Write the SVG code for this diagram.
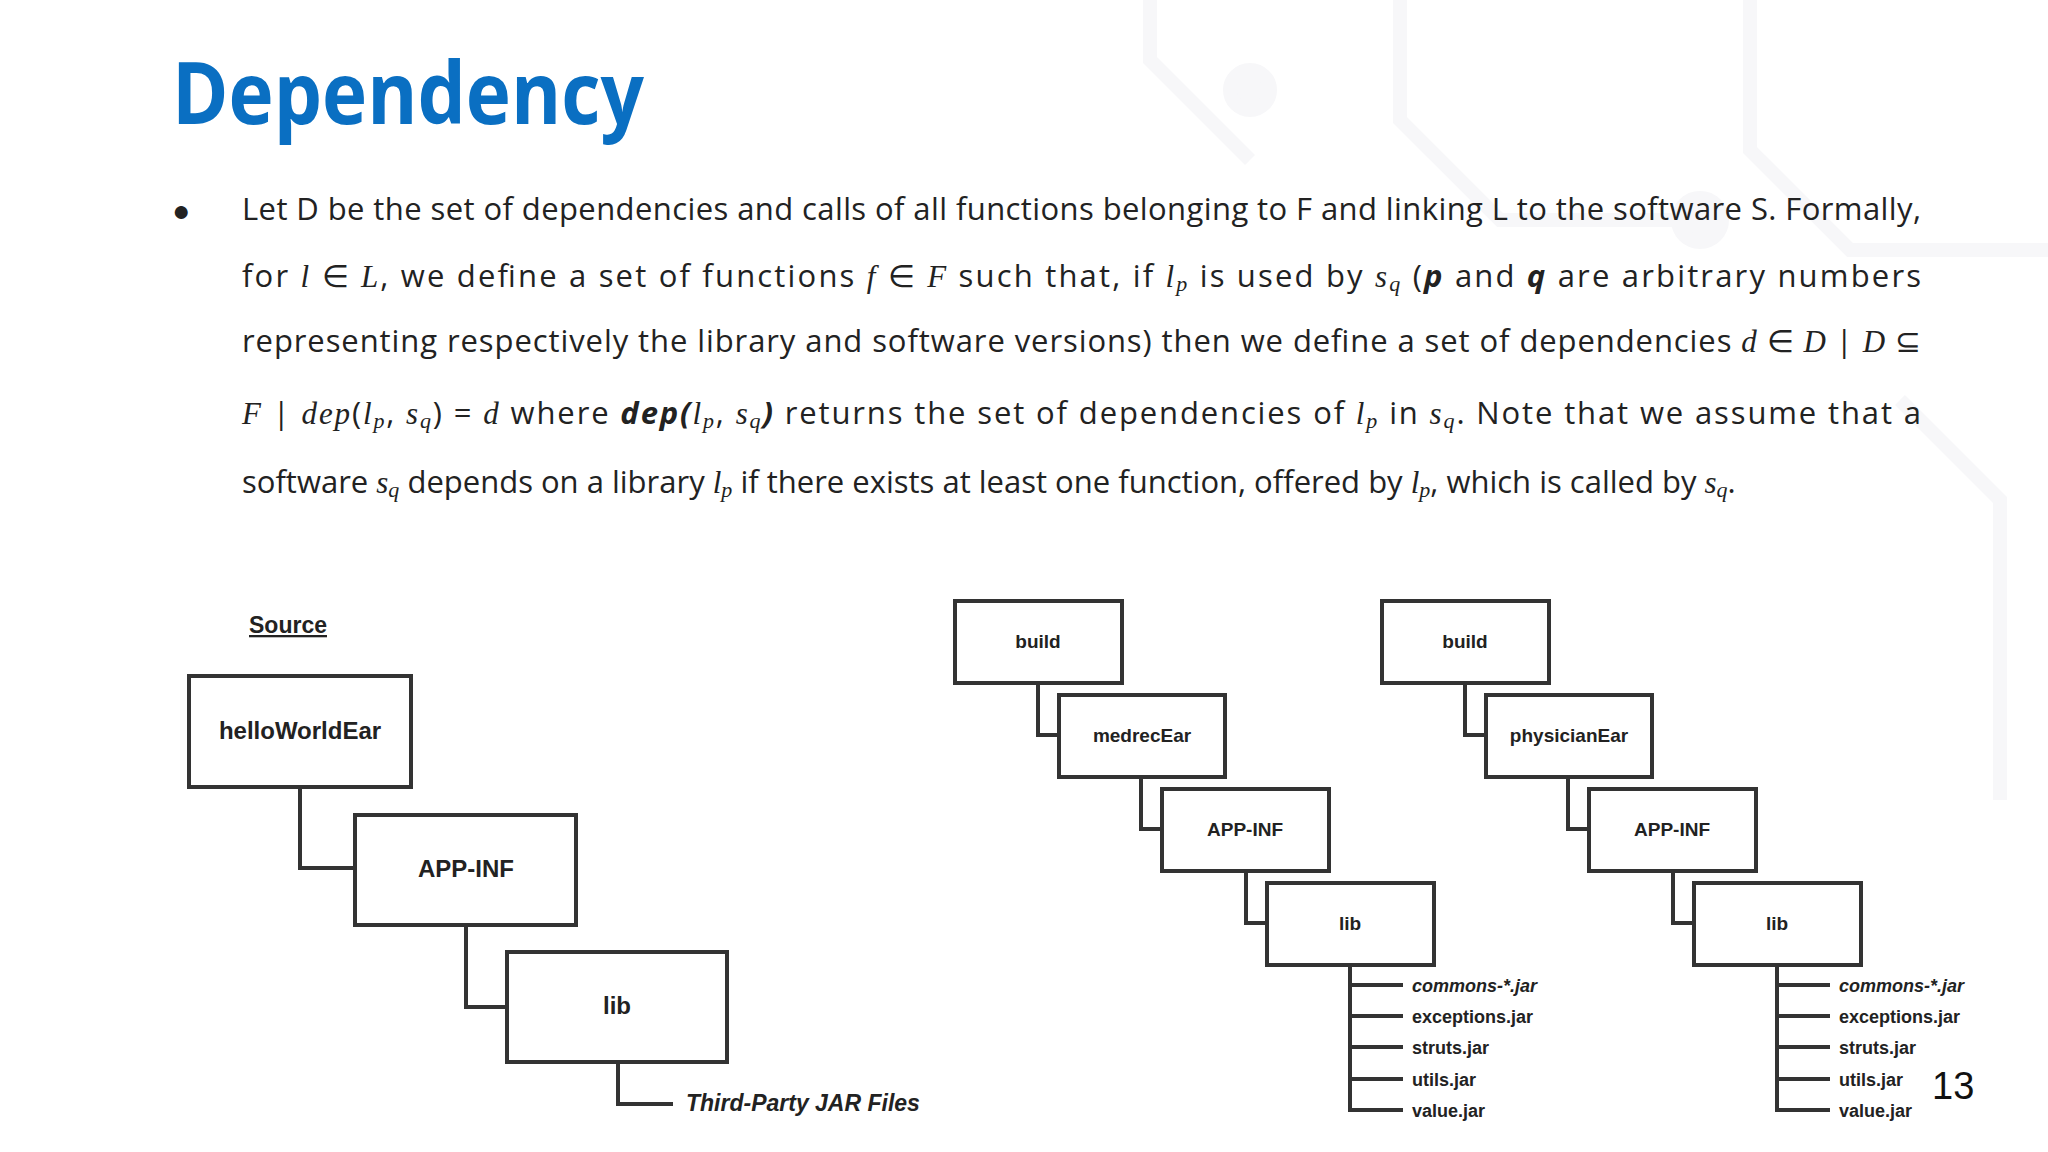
<svg xmlns="http://www.w3.org/2000/svg" width="2048" height="1152" viewBox="0 0 2048 1152">
<style>
.box{fill:#fff;stroke:#333;stroke-width:4}
.con{fill:none;stroke:#333;stroke-width:4}
.bl{font-family:"Liberation Sans",Arial,sans-serif;font-weight:bold;font-size:19px;fill:#222;text-anchor:middle}
.bb{font-size:24px}
.jar{font-family:"Liberation Sans",Arial,sans-serif;font-weight:bold;font-size:18px;fill:#222}
.big{font-size:23px}
.body{font-family:"Open Sans","Noto Sans",sans-serif;font-size:31px;fill:#222}
.m{font-family:"Liberation Serif",serif;font-style:italic}
.s{font-size:22px;baseline-shift:-20%}
</style>
<rect width="2048" height="1152" fill="#fff"/>
<g fill="none" stroke="#f7f7f9" stroke-width="14">
<path d="M1150 0 L1150 60 L1250 160"/><path d="M1400 0 L1400 120 L1500 220 L1700 220"/><path d="M1750 0 L1750 150 L1850 250 L2048 250"/><path d="M1900 400 L2000 500 L2000 800"/>
<circle cx="1250" cy="90" r="20" fill="#f7f7f9"/><circle cx="1700" cy="220" r="22" fill="#f7f7f9"/>
</g>
<text x="172" y="124" font-family="Open Sans,sans-serif" font-weight="bold" font-size="86" fill="#0a6fc2" textLength="472" lengthAdjust="spacingAndGlyphs">Dependency</text>
<text x="172" y="221" font-family="Liberation Sans,sans-serif" font-size="30" fill="#222">●</text>
<g class="body">
<text x="242" y="220" textLength="1679" lengthAdjust="spacing">Let D be the set of dependencies and calls of all functions belonging to F and linking L to the software S. Formally,</text>
<text x="242" y="287" textLength="1679" lengthAdjust="spacing">for <tspan class="m">l</tspan> ∈ <tspan class="m">L</tspan>, we define a set of functions <tspan class="m">f</tspan> ∈ <tspan class="m">F</tspan> such that, if <tspan class="m">l</tspan><tspan class="m s">p</tspan><tspan> is used by </tspan><tspan class="m">s</tspan><tspan class="m s">q</tspan><tspan> (</tspan><tspan font-weight="bold" font-style="italic">p</tspan> and <tspan font-weight="bold" font-style="italic">q</tspan> are arbitrary numbers</text>
<text x="242" y="352" textLength="1679" lengthAdjust="spacing">representing respectively the library and software versions) then we define a set of dependencies <tspan class="m">d</tspan> ∈ <tspan class="m">D</tspan> | <tspan class="m">D</tspan> ⊆</text>
<text x="242" y="424" textLength="1679" lengthAdjust="spacing"><tspan class="m">F</tspan> | <tspan class="m">dep</tspan>(<tspan class="m">l</tspan><tspan class="m s">p</tspan><tspan>, </tspan><tspan class="m">s</tspan><tspan class="m s">q</tspan><tspan>) = </tspan><tspan class="m">d</tspan> where <tspan font-weight="bold" font-style="italic">dep(</tspan><tspan class="m">l</tspan><tspan class="m s">p</tspan><tspan>, </tspan><tspan class="m">s</tspan><tspan class="m s">q</tspan><tspan font-weight="bold" font-style="italic">)</tspan> returns the set of dependencies of <tspan class="m">l</tspan><tspan class="m s">p</tspan><tspan> in </tspan><tspan class="m">s</tspan><tspan class="m s">q</tspan><tspan>. Note that we assume that a</tspan></text>
<text x="242" y="493">software <tspan class="m">s</tspan><tspan class="m s">q</tspan><tspan> depends on a library </tspan><tspan class="m">l</tspan><tspan class="m s">p</tspan><tspan> if there exists at least one function, offered by </tspan><tspan class="m">l</tspan><tspan class="m s">p</tspan><tspan>, which is called by </tspan><tspan class="m">s</tspan><tspan class="m s">q</tspan><tspan>.</tspan></text>
</g>
<g id="connectors">
<path class="con" d="M300 787 V868 H355 M466 925 V1007 H507 M618 1062 V1104 H673"/>
<path class="con" d="M1038 683 V735 H1059 M1141 777 V829 H1162 M1246 871 V923 H1267 M1350 965 V1110 H1403 M1350 985 H1403 M1350 1016 H1403 M1350 1047 H1403 M1350 1079 H1403"/>
<path class="con" d="M1465 683 V735 H1486 M1568 777 V829 H1589 M1673 871 V923 H1694 M1777 965 V1110 H1830 M1777 985 H1830 M1777 1016 H1830 M1777 1047 H1830 M1777 1079 H1830"/>
</g>
<g id="source">
<text x="249" y="633" class="jar big" text-decoration="underline">Source</text>
</g>
<g id="helloWorldEar"><rect class="box" x="189" y="676" width="222" height="111"/><text class="bl bb" x="300" y="739">helloWorldEar</text></g>
<g id="appinf1"><rect class="box" x="355" y="815" width="221" height="110"/><text class="bl bb" x="466" y="877">APP-INF</text></g>
<g id="lib1"><rect class="box" x="507" y="952" width="220" height="110"/><text class="bl bb" x="617" y="1014">lib</text></g>
<text x="686" y="1111" class="jar big" font-style="italic">Third-Party JAR Files</text>
<g id="build1"><rect class="box" x="955" y="601" width="167" height="82"/><text class="bl" x="1038" y="648">build</text></g>
<g id="medrecEar"><rect class="box" x="1059" y="695" width="166" height="82"/><text class="bl" x="1142" y="742">medrecEar</text></g>
<g id="appinf2"><rect class="box" x="1162" y="789" width="167" height="82"/><text class="bl" x="1245" y="836">APP-INF</text></g>
<g id="lib2"><rect class="box" x="1267" y="883" width="167" height="82"/><text class="bl" x="1350" y="930">lib</text></g>
<g class="jar">
<text x="1412" y="992" font-style="italic">commons-*.jar</text><text x="1412" y="1023">exceptions.jar</text><text x="1412" y="1054">struts.jar</text><text x="1412" y="1086">utils.jar</text><text x="1412" y="1117">value.jar</text>
</g>
<g id="build2"><rect class="box" x="1382" y="601" width="167" height="82"/><text class="bl" x="1465" y="648">build</text></g>
<g id="physicianEar"><rect class="box" x="1486" y="695" width="166" height="82"/><text class="bl" x="1569" y="742">physicianEar</text></g>
<g id="appinf3"><rect class="box" x="1589" y="789" width="167" height="82"/><text class="bl" x="1672" y="836">APP-INF</text></g>
<g id="lib3"><rect class="box" x="1694" y="883" width="167" height="82"/><text class="bl" x="1777" y="930">lib</text></g>
<g class="jar">
<text x="1839" y="992" font-style="italic">commons-*.jar</text><text x="1839" y="1023">exceptions.jar</text><text x="1839" y="1054">struts.jar</text><text x="1839" y="1086">utils.jar</text><text x="1839" y="1117">value.jar</text>
</g>
<text x="1932" y="1099" font-family="Liberation Sans,sans-serif" font-size="38" fill="#111">13</text>
</svg>
